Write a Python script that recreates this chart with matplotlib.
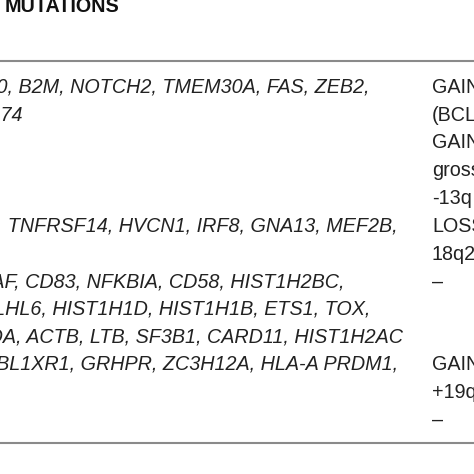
import matplotlib.pyplot as plt

plt.rcParams['font.family'] = ['Liberation Sans', 'DejaVu Sans']

header = "MUTATIONS"
left_rows = [
    "CIITA, CD70, B2M, NOTCH2, TMEM30A, FAS, ZEB2,",
    "CD74",
    "CREBBP, EP300, TNFRSF14, HVCN1, IRF8, GNA13, MEF2B,",
    "BRAF, CD83, NFKBIA, CD58, HIST1H2BC,",
    "KLHL6, HIST1H1D, HIST1H1B, ETS1, TOX,",
    "RHOA, ACTB, LTB, SF3B1, CARD11, HIST1H2AC",
    "TBL1XR1, GRHPR, ZC3H12A, HLA-A PRDM1,",
]
left_y = [87, 115, 226, 282, 309, 337, 364]
left_end = [370, 23, 398, 345, 370, 403, 398]

right_rows = ["GAIN 2p", "(BCL6)", "GAIN 3q", "gross", "-13q", "LOSS", "18q21", "\u2013",
              "GAIN", "+19q", "\u2013"]
right_y = [87, 115, 142, 170, 198, 226, 254, 282, 364, 393, 420]

fig = plt.figure(figsize=(4.74, 4.74), dpi=100)
ax = fig.add_axes([0, 0, 1, 1])
ax.set_xlim(0, 474)
ax.set_ylim(474, 0)
ax.axis('off')

ax.text(5, 6, header, fontsize=14.2, fontweight='bold', va='center', ha='left', color='#111')
ax.axhline(61, color='#8a8a8a', lw=1.5)
ax.axhline(443, color='#8a8a8a', lw=1.5)

for txt, y, xe in zip(left_rows, left_y, left_end):
    ax.text(xe, y, txt, fontsize=14.2, style='italic', va='center', ha='right', color='#222')
for txt, y in zip(right_rows, right_y):
    ax.text(432, y, txt, fontsize=14.2, va='center', ha='left', color='#222')

fig.savefig('out.png', dpi=100)
